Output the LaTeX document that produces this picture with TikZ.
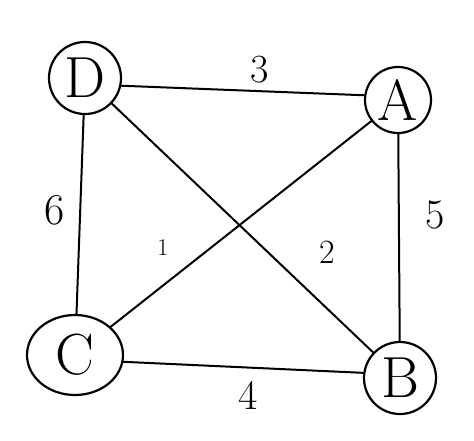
\documentclass[tikz,border=0pt]{standalone}
\usetikzlibrary{shapes.geometric}
\begin{document}
\begin{tikzpicture}[x=1pt,y=1pt,
  vtx/.style={draw,line width=2.2pt,circle,minimum size=72pt,inner sep=0pt,font=\fontsize{58}{58}\selectfont},
  edge/.style={line width=2pt,line cap=round},
  wlab/.style={font=\fontsize{42}{42}\selectfont}]
\useasboundingbox (0,0) rectangle (474,-440);
\node[vtx] (D) at (85,-78) {D};
\node[vtx,minimum size=66pt] (A) at (398,-100) {A};
\node[vtx,ellipse,minimum width=96pt,minimum height=80pt] (C) at (75,-355) {C};
\node[vtx] (B) at (400,-378) {B};
\draw[edge] (D.-12) -- (A.172);
\draw[edge] (A) -- (B);
\draw[edge] (D) -- (C);
\draw[edge] (C.-8) -- (B.172);
\draw[edge] (A) -- (C);
\draw[edge] (D) -- (B);
\node[wlab,font=\fontsize{40}{40}\selectfont] (l3) at (260,-70) {3};
\node[wlab] (l5) at (435,-215) {5};
\node[wlab,font=\fontsize{44}{44}\selectfont] (l6) at (55,-210) {6};
\node[wlab] (l4) at (248,-395) {4};
\node[wlab,font=\fontsize{24}{24}\selectfont] (l1) at (163,-248) {1};
\node[wlab,font=\fontsize{34}{34}\selectfont] (l2) at (327,-252) {2};
\end{tikzpicture}
\end{document}
